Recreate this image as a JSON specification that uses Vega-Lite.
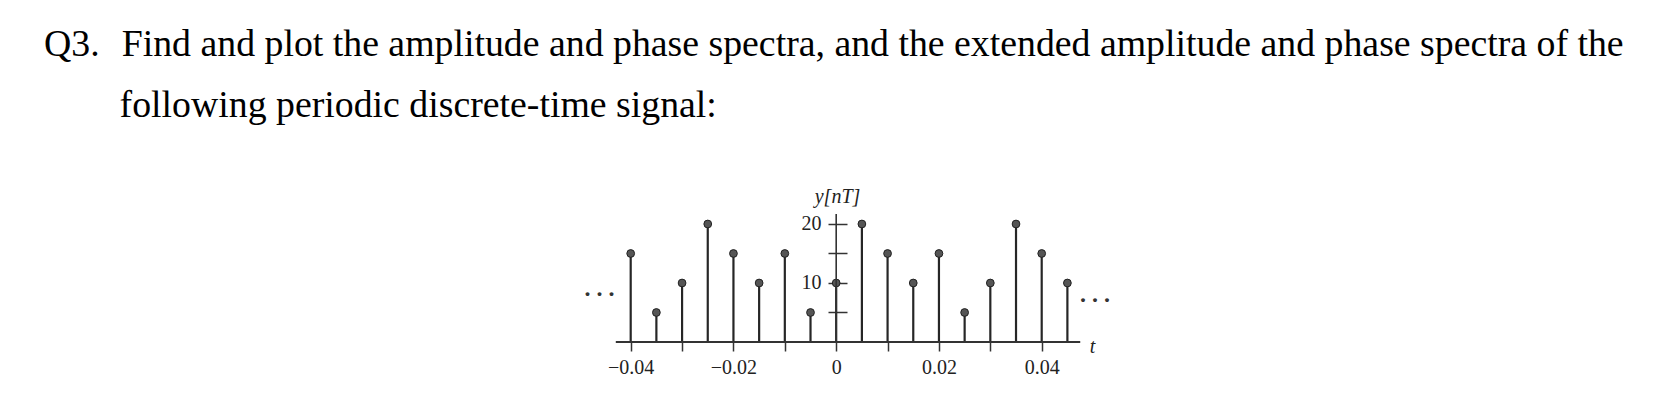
{
  "$schema": "https://vega.github.io/schema/vega-lite/v6.json",
  "width": 1680,
  "height": 192,
  "autosize": {"type": "none"},
  "padding": {"top": 150, "left": 0, "right": 0, "bottom": 64},
  "background": "white",
  "config": {"view": {"stroke": null}, "axis": {"grid": false}},
  "title": {
    "text": [
      "Q3.\u2002\u200aFind and plot the amplitude and phase spectra, and the extended amplitude and phase spectra of the",
      "\u200b\u2003\u2003following periodic discrete-time signal:"
    ],
    "anchor": "start",
    "frame": "group",
    "orient": "top",
    "dx": 44,
    "offset": 25,
    "font": "Liberation Serif",
    "fontSize": 37.8,
    "fontWeight": "normal",
    "color": "#000000",
    "lineHeight": 61
  },
  "datasets": {
    "signal": [
      {"t": -0.04, "value": 15},
      {"t": -0.035, "value": 5},
      {"t": -0.03, "value": 10},
      {"t": -0.025, "value": 20},
      {"t": -0.02, "value": 15},
      {"t": -0.015, "value": 10},
      {"t": -0.01, "value": 15},
      {"t": -0.005, "value": 5},
      {"t": 0, "value": 10},
      {"t": 0.005, "value": 20},
      {"t": 0.01, "value": 15},
      {"t": 0.015, "value": 10},
      {"t": 0.02, "value": 15},
      {"t": 0.025, "value": 5},
      {"t": 0.03, "value": 10},
      {"t": 0.035, "value": 20},
      {"t": 0.04, "value": 15},
      {"t": 0.045, "value": 10}
    ],
    "one": [{"k": 1}]
  },
  "layer": [
    {
      "data": {"name": "signal"},
      "mark": {"type": "rule", "color": "#262626", "strokeWidth": 2.2},
      "encoding": {
        "x": {
          "field": "t",
          "type": "quantitative",
          "scale": {"domain": [-0.16276, 0.16424], "nice": false, "zero": false},
          "axis": {
            "values": [-0.04, -0.03, -0.02, -0.01, 0, 0.01, 0.02, 0.03, 0.04],
            "domain": false,
            "grid": false,
            "tickSize": 9,
            "tickColor": "#333333",
            "tickWidth": 1.5,
            "labelExpr": "abs(round(datum.value*100)) % 2 == 0 ? (round(datum.value*100) == 0 ? '0' : format(datum.value, '.2f')) : ''",
            "labelFont": "Liberation Serif",
            "labelFontSize": 20,
            "labelColor": "#222222",
            "labelPadding": 6,
            "labelFlush": false,
            "labelOverlap": false,
            "labelBound": false,
            "title": "t",
            "titleFont": "Liberation Serif",
            "titleFontStyle": "italic",
            "titleFontSize": 20,
            "titleFontWeight": "normal",
            "titleColor": "#222222",
            "titleX": 1092,
            "titleY": 10,
            "titleAlign": "center",
            "titleBaseline": "alphabetic"
          }
        },
        "y": {
          "field": "value",
          "type": "quantitative",
          "scale": {"domain": [0, 32.54], "nice": false, "zero": false},
          "axis": {
            "values": [5, 10, 15, 20],
            "domain": false,
            "grid": false,
            "offset": -847,
            "tickSize": 19,
            "tickColor": "#333333",
            "tickWidth": 1.5,
            "labelExpr": "datum.value % 10 == 0 ? datum.label : ''",
            "labelFont": "Liberation Serif",
            "labelFontSize": 20,
            "labelColor": "#222222",
            "labelPadding": 7,
            "labelOverlap": false,
            "labelBound": false,
            "title": "y[nT]",
            "titleAngle": 0,
            "titleX": -10,
            "titleY": 52,
            "titleAlign": "center",
            "titleBaseline": "alphabetic",
            "titleFont": "Liberation Serif",
            "titleFontStyle": "italic",
            "titleFontSize": 20,
            "titleFontWeight": "normal",
            "titleColor": "#222222"
          }
        },
        "y2": {"datum": 0}
      }
    },
    {
      "data": {"name": "signal"},
      "mark": {"type": "point", "shape": "circle", "size": 60, "filled": true, "fill": "#555555", "stroke": "#222222", "strokeWidth": 1, "opacity": 1, "fillOpacity": 1},
      "encoding": {
        "x": {"field": "t", "type": "quantitative"},
        "y": {"field": "value", "type": "quantitative"}
      }
    },
    {
      "data": {"name": "one"},
      "mark": {"type": "rule", "color": "#333333", "strokeWidth": 1.8},
      "encoding": {
        "x": {"datum": -0.0429, "type": "quantitative"},
        "x2": {"datum": 0.0475},
        "y": {"datum": 0, "type": "quantitative"}
      }
    },
    {
      "data": {"name": "one"},
      "mark": {"type": "rule", "color": "#333333", "strokeWidth": 1.6},
      "encoding": {
        "x": {"datum": 0, "type": "quantitative"},
        "y": {"datum": 0, "type": "quantitative"},
        "y2": {"datum": 21.7}
      }
    },
    {
      "data": {"name": "one"},
      "mark": {"type": "text", "text": ". . .", "font": "Liberation Serif", "fontSize": 24, "fontWeight": "bold", "align": "center", "baseline": "alphabetic", "color": "#333333"},
      "encoding": {
        "x": {"datum": -0.04607, "type": "quantitative"},
        "y": {"datum": 7.8, "type": "quantitative"}
      }
    },
    {
      "data": {"name": "one"},
      "mark": {"type": "text", "text": ". . .", "font": "Liberation Serif", "fontSize": 24, "fontWeight": "bold", "align": "center", "baseline": "alphabetic", "color": "#333333"},
      "encoding": {
        "x": {"datum": 0.05037, "type": "quantitative"},
        "y": {"datum": 6.7, "type": "quantitative"}
      }
    }
  ]
}
